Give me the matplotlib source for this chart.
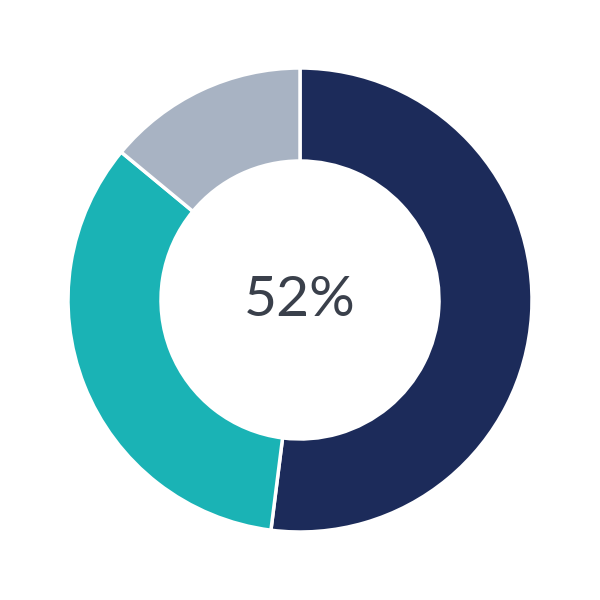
import matplotlib
matplotlib.use("Agg")
import matplotlib.pyplot as plt

labels = ["Navy", "Teal", "Gray"]
shares = [52, 34, 14]
colours = ["#1c2b5a", "#1ab3b5", "#a8b3c3"]
centre_label = "52%"

fig = plt.figure(figsize=(6, 6), dpi=100)
ax = fig.add_axes([0, 0, 1, 1])

ax.pie(shares, colors=colours, startangle=90, counterclock=False,
       radius=2.32, wedgeprops=dict(width=0.93, edgecolor="white", linewidth=2.5))

ax.text(0, 0, centre_label, ha="center", va="center", fontsize=41,
        family="Lato", weight="normal", color="#3a404b")

ax.set_xlim(-3, 3)
ax.set_ylim(-3, 3)
ax.set_aspect("equal")
ax.axis("off")

plt.savefig("out.png", dpi=100, facecolor="white")
